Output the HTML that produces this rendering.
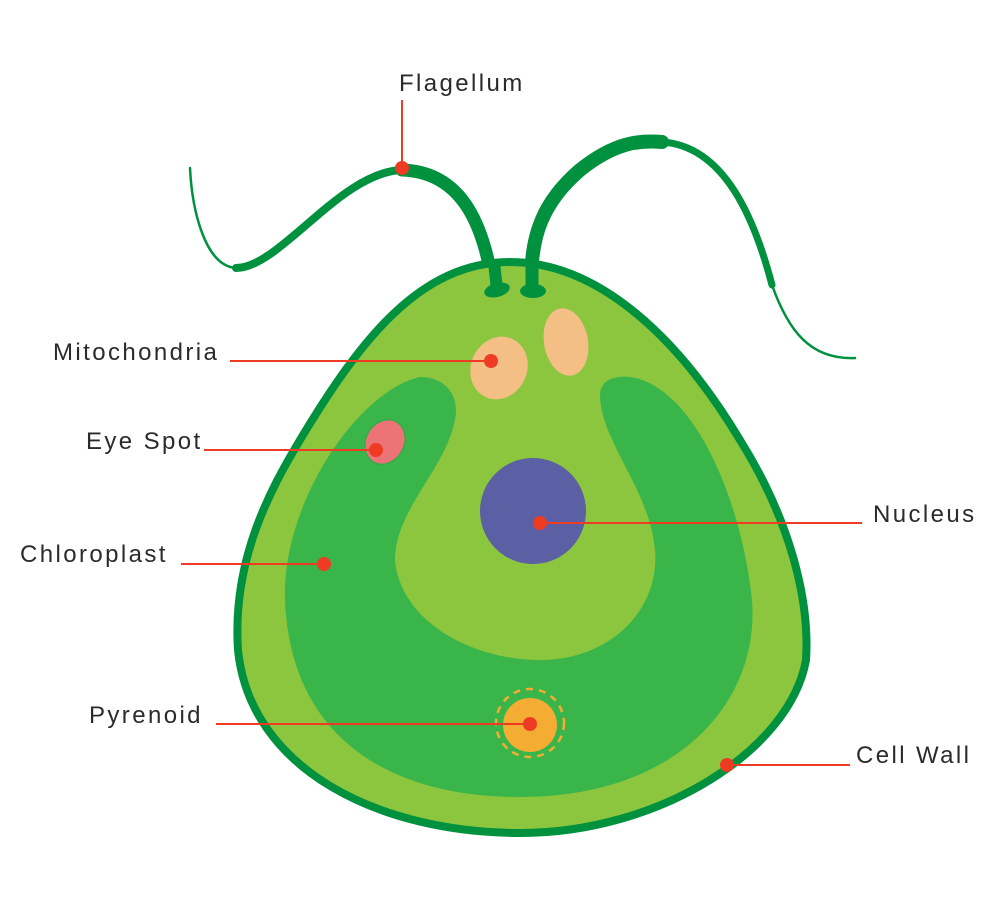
<!DOCTYPE html>
<html><head><meta charset="utf-8"><style>
html,body{margin:0;padding:0;background:#fff;}
svg{display:block}
text{font-family:"Liberation Sans",sans-serif;font-size:24px;letter-spacing:2.4px;fill:#2b2b2b;}
</style></head><body>
<svg width="1000" height="905" viewBox="0 0 1000 905" xmlns="http://www.w3.org/2000/svg">
<!-- flagella -->
<g fill="none" stroke="#00913f" stroke-linecap="round">
<path d="M494,292 C485,230 465,172 402,170" stroke-width="13"/>
<path d="M402,170 C340,172 280,268 236,268" stroke-width="8"/>
<path d="M236,268 C205,266 192,210 190,168" stroke-width="2.5"/>
<path d="M532,292 C528,235 545,200 580,170 C615,142 640,140 662,142" stroke-width="14"/>
<path d="M662,142 C725,146 755,220 772,285" stroke-width="7"/>
<path d="M772,285 C788,330 810,360 855,358" stroke-width="2.5"/>
</g>
<!-- cell -->
<path d="M510,262 C600,262 680,340 740,440 C790,520 810,600 806,660 C790,750 660,833 520,833 C380,833 250,770 238,650 C232,560 270,490 300,440 C360,340 420,262 510,262 Z" fill="#8cc63f" stroke="#00913f" stroke-width="8"/>
<line x1="494" y1="262" x2="497" y2="290" stroke="#00913f" stroke-width="12"/>
<line x1="532" y1="262" x2="532" y2="290" stroke="#00913f" stroke-width="13"/>
<ellipse cx="497" cy="290" rx="13" ry="7" fill="#00913f" transform="rotate(-15 497 290)"/>
<ellipse cx="533" cy="291" rx="13" ry="7" fill="#00913f"/>
<!-- chloroplast -->
<path d="M420,377 C445,377 460,395 455,420 C445,470 395,510 395,560 C400,620 470,660 540,660 C610,660 660,610 655,550 C650,490 600,440 600,395 C600,380 615,375 630,377 C690,385 740,490 752,600 C760,700 680,797 520,797 C380,797 290,730 285,600 C282,500 360,390 420,377 Z" fill="#39b54a"/>
<!-- organelles -->
<ellipse cx="499" cy="368" rx="28" ry="32" fill="#f3bf85" transform="rotate(25 499 368)"/>
<ellipse cx="566" cy="342" rx="22" ry="34" fill="#f3bf85" transform="rotate(-10 566 342)"/>
<ellipse cx="385" cy="442" rx="19" ry="23" fill="#ec7476" stroke="#2fa84a" stroke-width="1" transform="rotate(30 385 442)"/>
<ellipse cx="533" cy="511" rx="53" ry="53" fill="#5b5fa3"/>
<circle cx="530" cy="725" r="27" fill="#f5ac33"/>
<circle cx="530" cy="723" r="34" fill="none" stroke="#f5ac33" stroke-width="2.5" stroke-dasharray="7 6"/>
<!-- leader lines -->
<g stroke="#ee3b24" stroke-width="2">
<line x1="402" y1="100" x2="402" y2="168"/>
<line x1="230" y1="361" x2="491" y2="361"/>
<line x1="204" y1="450" x2="376" y2="450"/>
<line x1="181" y1="564" x2="324" y2="564"/>
<line x1="540" y1="523" x2="862" y2="523"/>
<line x1="216" y1="724" x2="530" y2="724"/>
<line x1="727" y1="765" x2="850" y2="765"/>
</g>
<g fill="#ee3b24">
<circle cx="402" cy="168" r="7"/>
<circle cx="491" cy="361" r="7"/>
<circle cx="376" cy="450" r="7"/>
<circle cx="324" cy="564" r="7"/>
<circle cx="540" cy="523" r="7"/>
<circle cx="530" cy="724" r="7"/>
<circle cx="727" cy="765" r="7"/>
</g>
<text x="399" y="91">Flagellum</text>
<text x="53" y="360">Mitochondria</text>
<text x="86" y="449">Eye Spot</text>
<text x="20" y="562">Chloroplast</text>
<text x="873" y="522">Nucleus</text>
<text x="89" y="723">Pyrenoid</text>
<text x="856" y="763">Cell Wall</text>
</svg>
</body></html>
